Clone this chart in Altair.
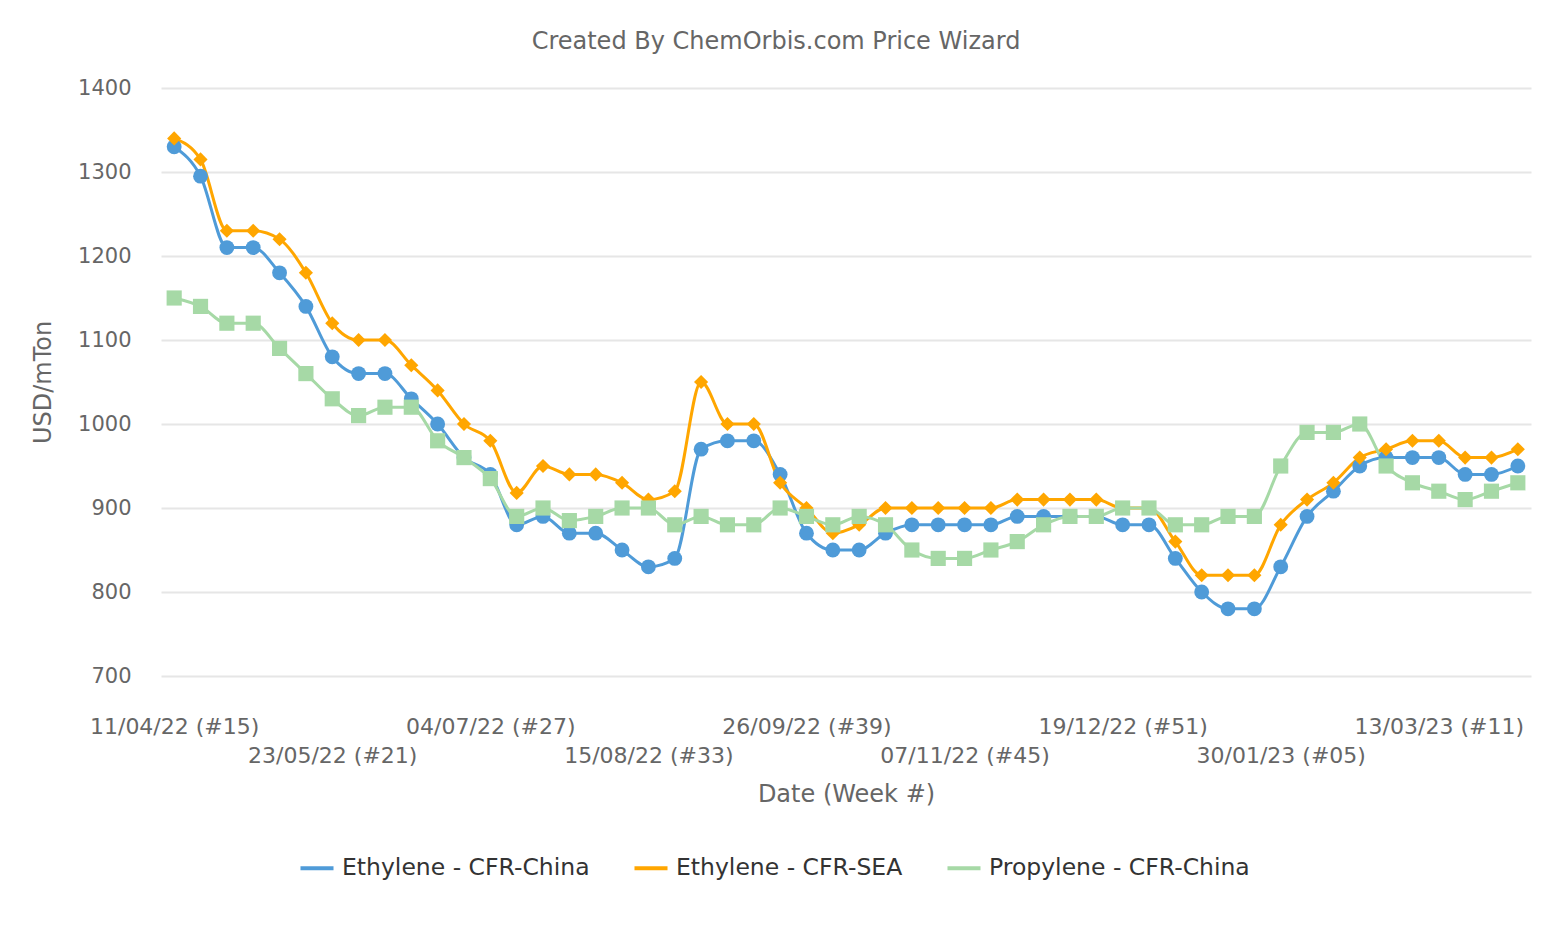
import altair as alt
import pandas as pd

# Weekly dates from 11/04/22 (week 15) to 03/04/23 (week 14)
weeks = pd.date_range("2022-04-11", periods=52, freq="7D")
week_labels = [f"{d.strftime('%d/%m/%y')} (#{d.isocalendar()[1]:02d})" for d in weeks]

series_names = ["Ethylene - CFR-China", "Ethylene - CFR-SEA", "Propylene - CFR-China"]
series_colors = ["#4f9bd8", "#ffa600", "#a6d9a6"]
series_shapes = ["circle", "diamond", "square"]
series_sizes = [220, 200, 230]

eth_china = [1330, 1295, 1210, 1210, 1180, 1140, 1080, 1060, 1060, 1030,
             1000, 960, 940, 880, 890, 870, 870, 850, 830, 840,
             970, 980, 980, 940, 870, 850, 850, 870, 880, 880,
             880, 880, 890, 890, 890, 890, 880, 880, 840, 800,
             780, 780, 830, 890, 920, 950, 960, 960, 960, 940,
             940, 950]
eth_sea = [1340, 1315, 1230, 1230, 1220, 1180, 1120, 1100, 1100, 1070,
           1040, 1000, 980, 918, 950, 940, 940, 930, 910, 920,
           1050, 1000, 1000, 930, 900, 870, 880, 900, 900, 900,
           900, 900, 910, 910, 910, 910, 900, 900, 860, 820,
           820, 820, 880, 910, 930, 960, 970, 980, 980, 960,
           960, 970]
prop_china = [1150, 1140, 1120, 1120, 1090, 1060, 1030, 1010, 1020, 1020,
              980, 960, 935, 890, 900, 885, 890, 900, 900, 880,
              890, 880, 880, 900, 890, 880, 890, 880, 850, 840,
              840, 850, 860, 880, 890, 890, 900, 900, 880, 880,
              890, 890, 950, 990, 990, 1000, 950, 930, 920, 910,
              920, 930]

y_ticks = [700, 800, 900, 1000, 1100, 1200, 1300, 1400]
row1_idx = [0, 12, 24, 36, 48]
row2_idx = [6, 18, 30, 42]
row1_labels = [week_labels[i] for i in row1_idx]
row2_labels = [week_labels[i] for i in row2_idx]

rows = []
for name, col, shp, sz, vals in zip(series_names, series_colors, series_shapes,
                                    series_sizes, [eth_china, eth_sea, prop_china]):
    for i, v in enumerate(vals):
        rows.append({"week": week_labels[i], "series": name, "value": v,
                     "hex": col, "shp": shp, "sz": sz, "order": i})
df = pd.DataFrame(rows)

FONT = "DejaVu Sans"
GREY = "#666666"

x_scale = alt.Scale(type="point", padding=0.5, domain=week_labels)
y_scale = alt.Scale(domain=[700, 1400], nice=False, zero=False)

y_axis = alt.Axis(values=y_ticks, format="d", title="USD/mTon", titleFontSize=24,
                  titleColor=GREY, titleFont=FONT, titleFontWeight="normal",
                  titlePadding=22, labelPadding=30, labelFontSize=21,
                  labelColor=GREY, labelFont=FONT, domain=False,
                  ticks=False, gridColor="#e6e6e6", gridWidth=2)

base = alt.Chart(df)

lines = base.mark_line(interpolate="monotone", strokeWidth=3).encode(
    x=alt.X("week:O", scale=x_scale, sort=week_labels,
            axis=alt.Axis(values=row1_labels, labelAngle=0, labelPadding=40,
                          labelBaseline="top", domain=False, ticks=False,
                          grid=False, title=None, orient="bottom",
                          labelFontSize=22, labelColor=GREY, labelFont=FONT,
                          labelLimit=0)),
    y=alt.Y("value:Q", scale=y_scale, axis=y_axis),
    color=alt.Color("series:N", scale=alt.Scale(domain=series_names, range=series_colors),
                    legend=alt.Legend(title=None, orient="none", direction="horizontal",
                                      legendX=137, legendY=761,
                                      symbolType="stroke", symbolStrokeWidth=4,
                                      symbolSize=1090, labelFontSize=23.5,
                                      labelColor="#333333", labelFont=FONT,
                                      labelLimit=0, columnPadding=36,
                                      symbolOffset=0, labelOffset=6)),
    order="order:Q",
)

points = base.mark_point(filled=True, opacity=1).encode(
    x=alt.X("week:O", scale=x_scale, sort=week_labels,
            axis=alt.Axis(values=row2_labels, labelAngle=0, labelPadding=69,
                          labelBaseline="top", domain=False, ticks=False,
                          grid=False, title="Date (Week #)", titlePadding=16,
                          titleFontSize=24, titleColor=GREY, titleFont=FONT,
                          titleFontWeight="normal", orient="bottom",
                          labelFontSize=22, labelColor=GREY, labelFont=FONT,
                          labelLimit=0)),
    y=alt.Y("value:Q", scale=y_scale, axis=y_axis),
    color=alt.Color("hex:N", scale=None),
    shape=alt.Shape("shp:N", scale=None),
    size=alt.Size("sz:Q", scale=None),
)

chart = alt.layer(lines, points).resolve_axis(x="independent").properties(
    width=1370,
    height=588,
    autosize=alt.AutoSizeParams(type="none"),
    padding={"left": 161, "top": 88, "right": 21, "bottom": 254},
    title=alt.TitleParams("Created By ChemOrbis.com Price Wizard", anchor="middle",
                          frame="group", dx=-70, offset=23, fontSize=24,
                          color=GREY, font=FONT, fontWeight="normal"),
).configure(background="white").configure_view(stroke="transparent", strokeWidth=0)

chart.save("out.html", embed_options={"renderer": "svg", "actions": False})
